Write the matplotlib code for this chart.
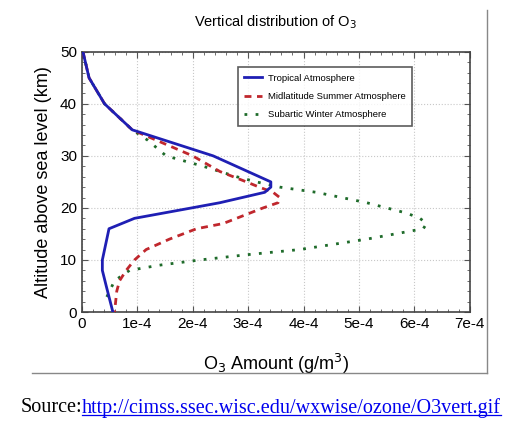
import matplotlib.pyplot as plt
from matplotlib.lines import Line2D
from matplotlib.ticker import MultipleLocator

# altitude (km) and O3 amount (units of 1e-4 g/m3)
alt_trop = [50, 45, 40, 35, 30, 25, 24, 23, 21, 20, 18, 16, 15, 10, 8, 5, 0]
o3_trop = [0.02, 0.13, 0.41, 0.91, 2.37, 3.41, 3.41, 3.3, 2.49, 1.98, 0.95, 0.49, 0.47, 0.37, 0.37, 0.44, 0.56]

alt_mid = [50, 45, 40, 35, 30, 27, 25, 24, 23, 22, 21, 20, 18, 17, 16, 14, 12, 10, 8, 6, 4, 0]
o3_mid = [0.02, 0.13, 0.41, 0.91, 2.0, 2.49, 2.97, 3.2, 3.45, 3.57, 3.54, 3.27, 2.79, 2.55, 2.07, 1.58, 1.16, 0.95, 0.8, 0.68, 0.63, 0.59]

alt_sub = [50, 45, 40, 35, 33, 30, 28, 26, 25, 24, 23, 21, 19, 18, 17, 16, 14, 12, 11, 10, 9, 8, 6, 4, 2]
o3_sub = [0.02, 0.13, 0.41, 0.91, 1.19, 1.52, 2.19, 2.79, 3.15, 3.57, 4.23, 5.14, 5.86, 6.1, 6.22, 6.16, 5.14, 3.93, 2.97, 2.13, 1.4, 0.86, 0.59, 0.5, 0.41]

xticks = [0, 1e-4, 2e-4, 3e-4, 4e-4, 5e-4, 6e-4, 7e-4]
xticklabels = ["0", "1e-4", "2e-4", "3e-4", "4e-4", "5e-4", "6e-4", "7e-4"]

plt.rcParams['font.family'] = ['Liberation Sans', 'DejaVu Sans']

fig = plt.figure(figsize=(5.18, 4.28), dpi=100)
ax = fig.add_axes([0.158, 0.271, 0.749, 0.608])

ax.plot([v * 1e-4 for v in o3_sub], alt_sub, color="#1e6b2a", linestyle=(0, (1, 3)), linewidth=2, label="Subartic Winter Atmosphere", zorder=2)
ax.plot([v * 1e-4 for v in o3_mid], alt_mid, color="#c0272d", linestyle=(0, (2.5, 2)), linewidth=2, label="Midlatitude Summer Atmosphere", zorder=3)
ax.plot([v * 1e-4 for v in o3_trop], alt_trop, color="#1f1fb4", linestyle="-", linewidth=2, label="Tropical Atmosphere", zorder=4)

ax.set_xlim(0, 7e-4)
ax.set_ylim(0, 50)
ax.set_xticks(xticks)
ax.set_xticklabels(xticklabels)
ax.set_yticks([0, 10, 20, 30, 40, 50])
ax.yaxis.set_minor_locator(MultipleLocator(2))
ax.xaxis.set_minor_locator(MultipleLocator(0.2e-4))
ax.tick_params(which="both", direction="in", top=True, right=True, labelsize=11, color="#555555")
ax.tick_params(which="major", length=4)
ax.tick_params(which="minor", length=2)
ax.grid(True, linestyle=":", color="#c8c8c8", linewidth=0.8)
for s in ax.spines.values():
    s.set_color("#444444")
    s.set_linewidth(1.2)

ax.set_title("Vertical distribution of O$_3$", fontsize=10.5, pad=18)
ax.set_xlabel("O$_3$ Amount (g/m$^3$)", fontsize=13, labelpad=15)
ax.set_ylabel("Altitude above sea level (km)", fontsize=13, labelpad=6)

handles, labels = ax.get_legend_handles_labels()
leg = ax.legend(handles[::-1], labels[::-1], loc="upper left", bbox_to_anchor=(0.39, 0.96),
                fontsize=6.8, frameon=True, fancybox=False, edgecolor="#333333",
                handlelength=1.9, handletextpad=0.6, borderpad=0.7, labelspacing=1.0)
leg.get_frame().set_linewidth(1.2)

# outer frame lines (right and bottom) of the original picture
fig.add_artist(Line2D([487 / 518, 487 / 518], [1 - 373 / 428, 1 - 10 / 428], color="#888888", linewidth=1))
fig.add_artist(Line2D([32 / 518, 487 / 518], [1 - 373 / 428, 1 - 373 / 428], color="#888888", linewidth=1))

src = fig.text(82 / 518, 1 - 408 / 428, "Source:", family="Liberation Serif", fontsize=14.5, va="center", ha="right")
url = fig.text(82 / 518, 1 - 408 / 428, "http://cimss.ssec.wisc.edu/wxwise/ozone/O3vert.gif", family="Liberation Serif",
               fontsize=14.5, va="center", ha="left", color="#0000ee")
fig.canvas.draw()
bb = url.get_window_extent().transformed(fig.transFigure.inverted())
fig.add_artist(Line2D([bb.x0, bb.x1], [bb.y0 + 0.006, bb.y0 + 0.006], color="#0000ee", linewidth=0.9))

fig.savefig("out.png", dpi=100)
